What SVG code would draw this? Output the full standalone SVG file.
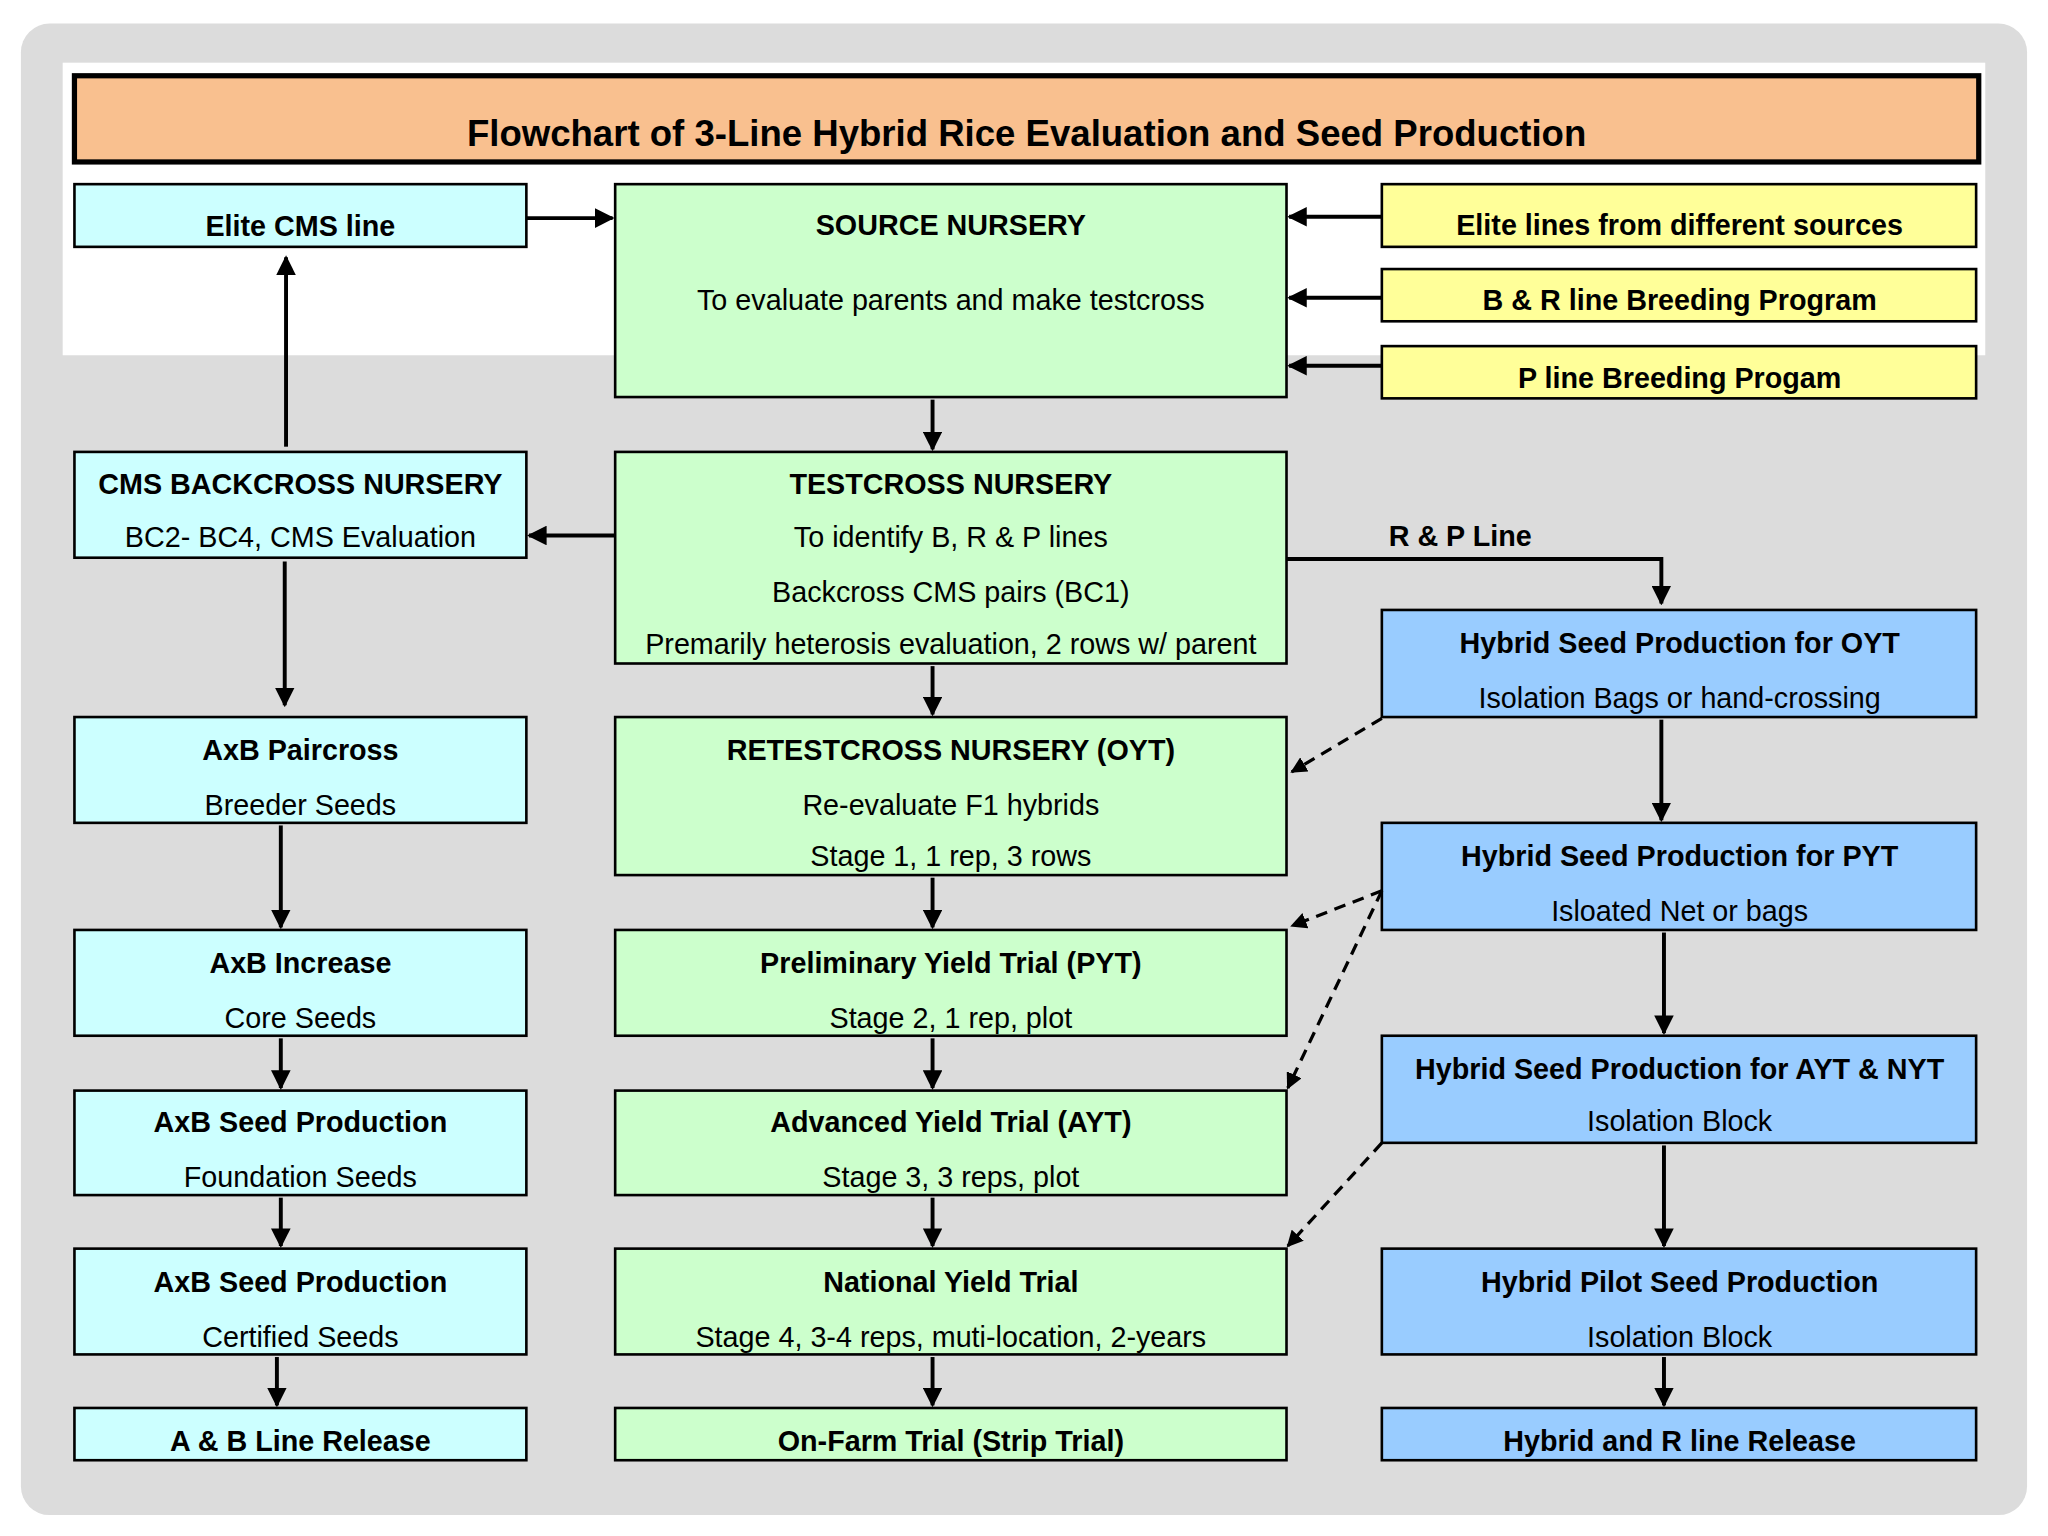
<svg xmlns="http://www.w3.org/2000/svg" width="2048" height="1536" viewBox="0 0 2048 1536">
<defs>
<marker id="ah" viewBox="0 0 10 10" refX="9" refY="5" markerWidth="5" markerHeight="5" orient="auto"><path d="M0,0L10,5L0,10z" fill="#000"/></marker>
<style>
.c{fill:#ccffff;stroke:#000;stroke-width:2}
.g{fill:#ccffcc;stroke:#000;stroke-width:2}
.y{fill:#ffff99;stroke:#000;stroke-width:2}
.b{fill:#99ccff;stroke:#000;stroke-width:2}
text{font-family:"Liberation Sans",Arial,sans-serif;font-size:22px;text-anchor:middle;fill:#000}
.h{font-weight:bold}
.a{stroke:#000;stroke-width:3;fill:none;marker-end:url(#ah)}
.d{stroke:#000;stroke-width:2.5;fill:none;stroke-dasharray:9,6;marker-end:url(#ah)}
</style>
</defs>
<rect width="2048" height="1536" fill="#fff"/>
<g transform="scale(1.3061)">
<rect x="16" y="18" width="1536" height="1142" rx="22" fill="#dcdcdc"/>
<rect x="48" y="48" width="1472" height="224" fill="#fff"/>
<g id="title"><rect x="57" y="58" width="1458" height="66" fill="#f9c08f" stroke="#000" stroke-width="4"/><text x="786" y="112" class="h" style="font-size:28px">Flowchart of 3-Line Hybrid Rice Evaluation and Seed Production</text></g>
<g id="elitecms"><rect class="c" x="57" y="141" width="346" height="48"/><text class="h" x="230" y="181">Elite CMS line</text></g>
<g id="cmsback"><rect class="c" x="57" y="346" width="346" height="81"/><text class="h" x="230" y="378">CMS BACKCROSS NURSERY</text><text x="230" y="419">BC2- BC4, CMS Evaluation</text></g>
<g id="pair"><rect class="c" x="57" y="549" width="346" height="81"/><text class="h" x="230" y="582">AxB Paircross</text><text x="230" y="624">Breeder Seeds</text></g>
<g id="incr"><rect class="c" x="57" y="712" width="346" height="81"/><text class="h" x="230" y="745">AxB Increase</text><text x="230" y="787">Core Seeds</text></g>
<g id="found"><rect class="c" x="57" y="835" width="346" height="80"/><text class="h" x="230" y="867">AxB Seed Production</text><text x="230" y="909">Foundation Seeds</text></g>
<g id="cert"><rect class="c" x="57" y="956" width="346" height="81"/><text class="h" x="230" y="989">AxB Seed Production</text><text x="230" y="1031">Certified Seeds</text></g>
<g id="abrel"><rect class="c" x="57" y="1078" width="346" height="40"/><text class="h" x="230" y="1111">A &amp; B Line Release</text></g>
<g id="source"><rect class="g" x="471" y="141" width="514" height="163"/><text class="h" x="728" y="180">SOURCE NURSERY</text><text x="728" y="237">To evaluate parents and make testcross</text></g>
<g id="test"><rect class="g" x="471" y="346" width="514" height="162"/><text class="h" x="728" y="378">TESTCROSS NURSERY</text><text x="728" y="419">To identify B, R &amp; P lines</text><text x="728" y="461">Backcross CMS pairs (BC1)</text><text x="728" y="501">Premarily heterosis evaluation, 2 rows w/ parent</text></g>
<g id="retest"><rect class="g" x="471" y="549" width="514" height="121"/><text class="h" x="728" y="582">RETESTCROSS NURSERY (OYT)</text><text x="728" y="624">Re-evaluate F1 hybrids</text><text x="728" y="663">Stage 1, 1 rep, 3 rows</text></g>
<g id="pyt"><rect class="g" x="471" y="712" width="514" height="81"/><text class="h" x="728" y="745">Preliminary Yield Trial (PYT)</text><text x="728" y="787">Stage 2, 1 rep, plot</text></g>
<g id="ayt"><rect class="g" x="471" y="835" width="514" height="80"/><text class="h" x="728" y="867">Advanced Yield Trial (AYT)</text><text x="728" y="909">Stage 3, 3 reps, plot</text></g>
<g id="nyt"><rect class="g" x="471" y="956" width="514" height="81"/><text class="h" x="728" y="989">National Yield Trial</text><text x="728" y="1031">Stage 4, 3-4 reps, muti-location, 2-years</text></g>
<g id="onfarm"><rect class="g" x="471" y="1078" width="514" height="40"/><text class="h" x="728" y="1111">On-Farm Trial (Strip Trial)</text></g>
<g id="y1"><rect class="y" x="1058" y="141" width="455" height="48"/><text class="h" x="1286" y="180">Elite lines from different sources</text></g>
<g id="y2"><rect class="y" x="1058" y="206" width="455" height="40"/><text class="h" x="1286" y="237">B &amp; R line Breeding Program</text></g>
<g id="y3"><rect class="y" x="1058" y="265" width="455" height="40"/><text class="h" x="1286" y="297">P line Breeding Progam</text></g>
<g id="hoyt"><rect class="b" x="1058" y="467" width="455" height="82"/><text class="h" x="1286" y="500">Hybrid Seed Production for OYT</text><text x="1286" y="542">Isolation Bags or hand-crossing</text></g>
<g id="hpyt"><rect class="b" x="1058" y="630" width="455" height="82"/><text class="h" x="1286" y="663">Hybrid Seed Production for PYT</text><text x="1286" y="705">Isloated Net or bags</text></g>
<g id="hayt"><rect class="b" x="1058" y="793" width="455" height="82"/><text class="h" x="1286" y="826">Hybrid Seed Production for AYT &amp; NYT</text><text x="1286" y="866">Isolation Block</text></g>
<g id="hpilot"><rect class="b" x="1058" y="956" width="455" height="81"/><text class="h" x="1286" y="989">Hybrid Pilot Seed Production</text><text x="1286" y="1031">Isolation Block</text></g>
<g id="hrel"><rect class="b" x="1058" y="1078" width="455" height="40"/><text class="h" x="1286" y="1111">Hybrid and R line Release</text></g>
<g id="connectors">
<path class="a" d="M403,167H469"/>
<path class="a" d="M1058,166H987"/><path class="a" d="M1058,228H987"/><path class="a" d="M1058,280H987"/>
<path class="a" d="M714,306V344"/>
<path class="a" d="M471,410H405"/>
<path class="a" d="M219,342V197"/>
<path class="a" d="M218,430V540"/>
<path class="a" d="M215,632V710"/><path class="a" d="M215,795V833"/><path class="a" d="M215,917V954"/><path class="a" d="M212,1039V1076"/>
<path class="a" d="M714,510V547"/><path class="a" d="M714,672V710"/><path class="a" d="M714,795V833"/><path class="a" d="M714,917V954"/><path class="a" d="M714,1039V1076"/>
<path class="a" d="M985,428H1272V462"/>
<text class="h" x="1118" y="418">R &amp; P Line</text>
<path class="a" d="M1272,551V628"/><path class="a" d="M1274,714V791"/><path class="a" d="M1274,877V954"/><path class="a" d="M1274,1039V1076"/>
<path class="d" d="M1058,550L989,591"/><path class="d" d="M1058,682L989,709"/><path class="d" d="M1058,682L986,833"/><path class="d" d="M1058,875L986,954"/>
</g>
</g>
</svg>
